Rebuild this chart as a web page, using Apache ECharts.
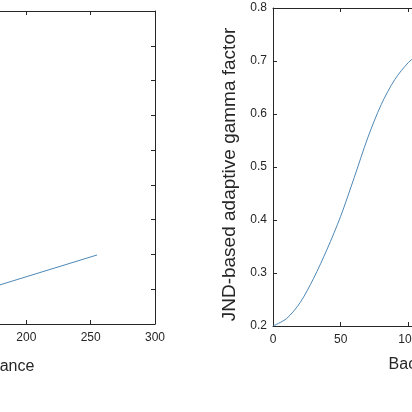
<!DOCTYPE html>
<html>
<head>
<meta charset="utf-8">
<script src="https://cdn.jsdelivr.net/npm/echarts@6/dist/echarts.min.js"></script>
<style>
  html, body { margin: 0; padding: 0; background: #fff; }
  #chart { width: 412px; height: 412px; }
</style>
</head>
<body>
<div id="chart"></div>
<script>
// left panel: threshold line (only the right end is visible)
const leftLine = [[150, 3.54], [179, 4.24], [255, 5.97]];

// right panel: JND-based adaptive gamma factor vs background luminance
const gammaLum = [0, 10, 20, 30, 40, 50, 60, 70, 80, 90, 100, 110, 120];
const gammaVal = [0.200, 0.214, 0.244, 0.290, 0.345, 0.407, 0.480, 0.555, 0.618, 0.665, 0.697, 0.718, 0.733];

const xTicks = { min: 0, max: 300, interval: 50 };
const rightYTicks = { min: 0.2, max: 0.8, interval: 0.1 };
const leftYTicks = { min: 2, max: 20, interval: 2 };

const FONT = "Liberation Sans";
const INK = "#262626";
const LINE_COLOR = "#4d88b6";

const axisLine = { show: true, onZero: false, lineStyle: { color: INK, width: 1 } };
const tickIn = { show: true, inside: true, length: 4, lineStyle: { color: INK } };
const labelStyle = { color: INK, fontFamily: FONT, fontSize: 12 };
const nameStyle = { color: INK, fontFamily: FONT, fontSize: 16 };

const boxX = grid => ({
    gridIndex: grid, type: "value", position: "top", ...xTicks,
    axisLine, axisTick: tickIn, axisLabel: { show: false }, splitLine: { show: false }
});
const boxY = (grid, ticks) => ({
    gridIndex: grid, type: "value", position: "right", ...ticks,
    axisLine, axisTick: tickIn, axisLabel: { show: false }, splitLine: { show: false }
});

const chart = echarts.init(document.getElementById("chart"));
chart.setOption({
    animation: false,
    backgroundColor: "#fff",
    grid: [
        { left: -231, top: 11, width: 386, height: 313, containLabel: false, outerBoundsMode: "none" },
        { left: 273, top: 8, width: 406, height: 318, containLabel: false, outerBoundsMode: "none" }
    ],
    xAxis: [
        {
            gridIndex: 0, type: "value", ...xTicks,
            name: "Background luminance", nameLocation: "middle", nameGap: 35,
            nameTextStyle: { ...nameStyle, padding: [0, 18, 0, 0] },
            axisLine, axisTick: tickIn,
            axisLabel: { ...labelStyle, margin: 8 },
            splitLine: { show: false }
        },
        boxX(0),
        {
            gridIndex: 1, type: "value", ...xTicks,
            name: "Background luminance", nameLocation: "middle", nameGap: 31,
            nameTextStyle: { ...nameStyle, padding: [0, 12, 0, 0] },
            axisLine, axisTick: tickIn,
            axisLabel: { ...labelStyle, margin: 8 },
            splitLine: { show: false }
        },
        boxX(1)
    ],
    yAxis: [
        {
            gridIndex: 0, type: "value", ...leftYTicks,
            axisLine, axisTick: tickIn,
            axisLabel: { ...labelStyle, margin: 6 },
            splitLine: { show: false }
        },
        boxY(0, leftYTicks),
        {
            gridIndex: 1, type: "value", ...rightYTicks,
            name: "JND-based adaptive gamma factor", nameLocation: "middle", nameGap: 31,
            nameTextStyle: { ...nameStyle, fontSize: 19, padding: [0, 15, 0, 0] },
            axisLine, axisTick: tickIn,
            axisLabel: { ...labelStyle, margin: 6, formatter: v => v.toFixed(1) },
            splitLine: { show: false }
        },
        boxY(1, rightYTicks)
    ],
    series: [
        {
            type: "line", xAxisIndex: 0, yAxisIndex: 0,
            data: leftLine, showSymbol: false,
            lineStyle: { color: LINE_COLOR, width: 1 }
        },
        {
            type: "line", xAxisIndex: 2, yAxisIndex: 2,
            data: gammaLum.map((x, i) => [x, gammaVal[i]]),
            showSymbol: false, smooth: 0.3,
            lineStyle: { color: LINE_COLOR, width: 1 }
        }
    ]
});
</script>
</body>
</html>
